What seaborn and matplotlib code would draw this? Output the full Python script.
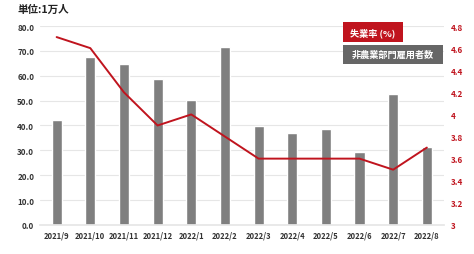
import matplotlib
matplotlib.use("Agg")
import matplotlib.pyplot as plt
from matplotlib.patches import Rectangle
import seaborn as sns
import pandas as pd

# data
months = ['2021/9', '2021/10', '2021/11', '2021/12', '2022/1', '2022/2',
          '2022/3', '2022/4', '2022/5', '2022/6', '2022/7', '2022/8']
payrolls = [42.4, 67.7, 64.7, 58.8, 50.4, 71.4, 39.8, 36.8, 38.6, 29.3, 52.6, 31.5]
unemp = [4.7, 4.6, 4.2, 3.9, 4.0, 3.8, 3.6, 3.6, 3.6, 3.6, 3.5, 3.7]
left_ticks = [0, 10, 20, 30, 40, 50, 60, 70, 80]
right_ticks = [3, 3.2, 3.4, 3.6, 3.8, 4, 4.2, 4.4, 4.6, 4.8]

sns.set_theme(style='white')
plt.rcParams['font.family'] = ['Noto Sans CJK JP', 'DejaVu Sans']

RED = '#c0141e'
GRAY = '#7f7f7f'
W, H = 474, 255

df = pd.DataFrame({'month': months, 'payrolls': payrolls, 'unemp': unemp})

fig = plt.figure(figsize=(4.74, 2.55), dpi=100)
ax = fig.add_axes([0.084, 0.114, 0.852, 0.78])

sns.barplot(data=df, x='month', y='payrolls', color=GRAY, width=0.3,
            saturation=1, ax=ax)
ax.set_ylim(0, 80)
ax.set_xlim(-0.5, 11.5)
ax.set_yticks(left_ticks)
ax.set_yticklabels([f'{v:.1f}' for v in left_ticks], fontsize=5.8,
                   fontweight='bold', color='#333333')
ax.set_xticks(range(len(months)))
ax.set_xticklabels(months, fontsize=5.5, fontweight='bold', color='#333333')
ax.tick_params(axis='both', length=0, pad=4)
ax.yaxis.grid(True, color='#e6e6e6', linewidth=0.8)
ax.set_axisbelow(True)
ax.set_xlabel('')
ax.set_ylabel('')
for s in ax.spines.values():
    s.set_visible(False)
ax.spines['bottom'].set_visible(True)
ax.spines['bottom'].set_color('#e6e6e6')

ax2 = ax.twinx()
sns.lineplot(x=list(range(len(months))), y=unemp, color=RED, linewidth=1.4, ax=ax2)
ax2.set_ylim(3, 4.8)
ax2.set_yticks(right_ticks)
ax2.set_yticklabels([f'{v:g}' for v in right_ticks], fontsize=5.8,
                    fontweight='bold', color=RED)
ax2.tick_params(axis='y', length=0, pad=5)
for s in ax2.spines.values():
    s.set_visible(False)
ax2.grid(False)

fig.text(17 / W, 1 - 10 / H, '単位:1万人', fontsize=7.6, fontweight='bold',
         color='#222222', va='center')

# legend boxes (pixel geometry converted to figure fraction)
boxes = [(343, 23, 60, 20, RED, '失業率 (%)'),
         (343, 46, 100, 19, '#666666', '非農業部門雇用者数')]
for x, y, w, h, c, label in boxes:
    fig.patches.append(Rectangle((x / W, 1 - (y + h) / H), w / W, h / H,
                                 transform=fig.transFigure, fc=c, ec='none',
                                 zorder=5))
    fig.text((x + w / 2) / W, 1 - (y + h / 2) / H, label, fontsize=6.6,
             fontweight='bold', color='white', ha='center', va='center',
             zorder=6)

fig.savefig('out.png', dpi=100)
